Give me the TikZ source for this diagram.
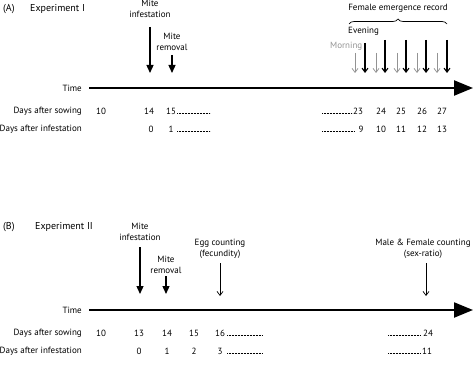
\documentclass[tikz,border=0pt]{standalone}
\usepackage{fontspec}
\setmainfont{PT Sans}
\usetikzlibrary{arrows.meta,decorations.pathreplacing}
\begin{document}
\begin{tikzpicture}[x=1pt,y=-1pt,
  every node/.style={font=\fontsize{9}{11}\selectfont, inner sep=0pt},
  lbl/.style={align=center},
  big/.style={font=\fontsize{10}{12}\selectfont},
  bigarrow/.style={line width=1.3pt, -{Triangle[length=8pt,width=7pt]}},
  thinarrow/.style={line width=0.7pt, -{Straight Barb[length=4pt,width=6pt]}},
  grayarrow/.style={line width=0.75pt, gray!85, -{Straight Barb[length=4pt,width=6pt]}},
  evearrow/.style={line width=1.1pt, -{Straight Barb[length=4pt,width=6pt]}},
  axis/.style={line width=2.2pt, -{Triangle[length=19pt,width=15pt]}},
  dotline/.style={line width=0.6pt, dash pattern=on 0.6pt off 0.9pt}]
\useasboundingbox (0,0) rectangle (474,369);

% ---------------- Panel A ----------------
\node[big, anchor=west] (labA) at (3,9) {(A)};
\node[big, anchor=west] (expA) at (30,9) {Experiment I};

\node[lbl] (infA) at (150,9) {Mite\\infestation};
\coordinate (infAend) at (150,73);
\draw[bigarrow] (150,27) -- (infAend);
\node[lbl] (remA) at (172,42) {Mite\\removal};
\coordinate (remAend) at (172,73);
\draw[bigarrow] (172,55) -- (remAend);

\node[lbl] (femA) at (398,8) {Female emergence record};
\coordinate (brL) at (349,24);
\coordinate (brR) at (447,24);
\draw[line width=0.7pt, decorate, decoration={brace, amplitude=5pt}] (brL) -- (brR);
\node[anchor=west] (eveA) at (348,31) {Evening};
\node[anchor=west, text=gray!85] (morA) at (330,46) {Morning};

\foreach \x in {355,376,397,417,437} \draw[grayarrow] (\x,53) -- (\x,73);
\draw[evearrow] (365,43) -- (365,73);
\foreach \x in {385,406,426,447} \draw[evearrow] (\x,40) -- (\x,73);

\node[anchor=east] (timeA) at (82,88) {Time};
\coordinate (tipA) at (473,88);
\draw[axis] (89,88) -- (tipA);

\node[anchor=east] (dsA) at (82,111) {Days after sowing};
\node[anchor=east] (diA) at (82,129) {Days after infestation};

\foreach \v/\x in {10/101,14/149,15/171} \node (sA\v) at (\x,111) {\v};
\draw[dotline] (177,113.5) -- (210,113.5);
\draw[dotline] (322,113.5) -- (352,113.5);
\foreach \v/\x in {23/358,24/381,25/401,26/422,27/442} \node (sA\v) at (\x,111) {\v};

\foreach \v/\x in {0/151,1/171} \node (iA\v) at (\x,129) {\v};
\draw[dotline] (177,131.5) -- (210,131.5);
\draw[dotline] (322,131.5) -- (354,131.5);
\foreach \v/\x in {9/361,10/381,11/401,12/422,13/442} \node (iA\v) at (\x,129) {\v};

% ---------------- Panel B ----------------
\node[big, anchor=west] (labB) at (3,227) {(B)};
\node[big, anchor=west] (expB) at (35,227) {Experiment II};

\node[lbl] (infB) at (140,232) {Mite\\infestation};
\coordinate (infBend) at (140,294);
\draw[bigarrow] (140,247) -- (infBend);
\node[lbl] (remB) at (166,265) {Mite\\removal};
\coordinate (remBend) at (166,294);
\draw[bigarrow] (166,276) -- (remBend);

\node[lbl] (eggB) at (220,249) {Egg counting\\(fecundity)};
\coordinate (eggBend) at (220,296);
\draw[thinarrow] (220,263) -- (eggBend);

\node[lbl] (sexB) at (423,249) {Male \& Female counting\\(sex-ratio)};
\coordinate (sexBend) at (426,296);
\draw[thinarrow] (426,263) -- (sexBend);

\node[anchor=east] (timeB) at (82,310) {Time};
\coordinate (tipB) at (473,310);
\draw[axis] (89,310) -- (tipB);

\node[anchor=east] (dsB) at (82,333) {Days after sowing};
\node[anchor=east] (diB) at (82,351) {Days after infestation};

\foreach \v/\x in {10/101,13/139,14/167,15/194,16/220} \node (sB\v) at (\x,333) {\v};
\draw[dotline] (227,335.5) -- (262,335.5);
\draw[dotline] (388,335.5) -- (420,335.5);
\node (sB24) at (428,333) {24};

\foreach \v/\x in {0/139,1/167,2/194,3/220} \node (iB\v) at (\x,351) {\v};
\draw[dotline] (227,353.5) -- (262,353.5);
\draw[dotline] (388,353.5) -- (420,353.5);
\node (iB11) at (427,351) {11};
\end{tikzpicture}
\end{document}
